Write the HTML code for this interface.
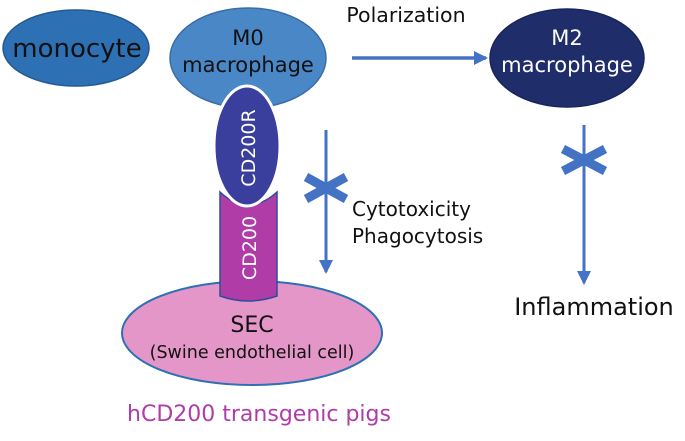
<!DOCTYPE html>
<html><head><meta charset="utf-8"><style>
body{margin:0;background:#fff}
svg text{font-family:"DejaVu Sans","Liberation Sans",sans-serif}
</style></head><body>
<svg width="685" height="436" viewBox="0 0 685 436" xmlns="http://www.w3.org/2000/svg">
<defs>
<marker id="ah" markerWidth="14" markerHeight="14" refX="12" refY="7" orient="auto" markerUnits="userSpaceOnUse">
<path d="M0,0 L14,7 L0,14 Z" fill="#4472c4"/></marker>
</defs>
<ellipse cx="76" cy="48" rx="73" ry="38" fill="#2e70b4" stroke="#245a94" stroke-width="1.5"/>
<text x="77" y="57" font-size="26" fill="#111" text-anchor="middle">monocyte</text>
<ellipse cx="248" cy="58" rx="78" ry="50" fill="#4a87c6" stroke="#3a6ea8" stroke-width="1.5"/>
<text x="248" y="45" font-size="21" fill="#111" text-anchor="middle">M0</text>
<text x="248" y="72" font-size="21" fill="#111" text-anchor="middle">macrophage</text>
<ellipse cx="567" cy="58" rx="77" ry="49" fill="#1f2d6b" stroke="#18245a" stroke-width="1.5"/>
<text x="567" y="45" font-size="21" fill="#fff" text-anchor="middle">M2</text>
<text x="567" y="72" font-size="21" fill="#fff" text-anchor="middle">macrophage</text>
<line x1="352" y1="58" x2="486" y2="58" stroke="#4472c4" stroke-width="3.5" marker-end="url(#ah)"/>
<text x="406" y="22" font-size="20.5" fill="#111" text-anchor="middle">Polarization</text>
<ellipse cx="252" cy="333" rx="130" ry="52" fill="#e596c8" stroke="#2e70b4" stroke-width="2"/>
<path d="M220,192 Q248,218 277,192 L277,296 Q248,306 220,296 Z" fill="#b03ca8" stroke="#2e4c9a" stroke-width="1.5"/>
<ellipse cx="247" cy="146" rx="33" ry="60" fill="#3a3f9e" stroke="#fff" stroke-width="3"/>
<text transform="translate(255,148) rotate(-90)" font-size="19" fill="#fff" text-anchor="middle">CD200R</text>
<text transform="translate(256,248) rotate(-90)" font-size="19" fill="#fff" text-anchor="middle">CD200</text>
<text x="252" y="332" font-size="22" fill="#111" text-anchor="middle">SEC</text>
<text x="252" y="358" font-size="17.5" fill="#111" text-anchor="middle">(Swine endothelial cell)</text>
<line x1="326" y1="130" x2="326" y2="272" stroke="#4472c4" stroke-width="3" marker-end="url(#ah)"/>
<path d="M306,177 L346,199 M306,199 L346,177" stroke="#4472c4" stroke-width="9"/>
<text x="352" y="216" font-size="20" fill="#111">Cytotoxicity</text>
<text x="352" y="243" font-size="20" fill="#111">Phagocytosis</text>
<line x1="584" y1="125" x2="584" y2="283" stroke="#4472c4" stroke-width="3" marker-end="url(#ah)"/>
<path d="M563,149 L605,171 M563,171 L605,149" stroke="#4472c4" stroke-width="9"/>
<text x="594" y="315" font-size="24" fill="#111" text-anchor="middle">Inflammation</text>
<text x="259" y="421" font-size="22" fill="#b03ca8" text-anchor="middle">hCD200 transgenic pigs</text>
</svg>
</body></html>
